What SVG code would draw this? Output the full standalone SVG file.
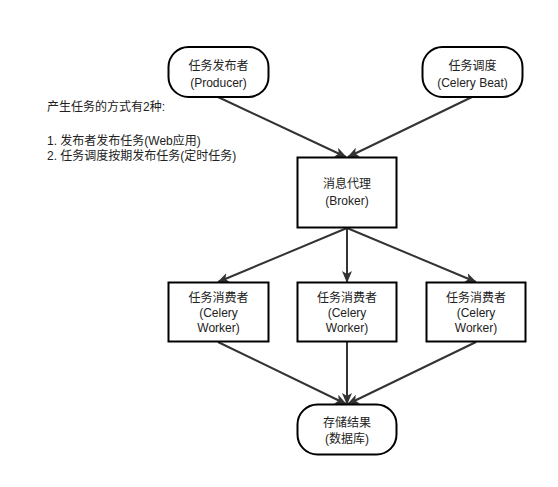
<svg xmlns="http://www.w3.org/2000/svg" width="558" height="487" viewBox="0 0 558 487">
<defs>
<style>
.n{fill:#fff;stroke:#000;stroke-width:2}
.t{font-family:"Liberation Sans","Noto Sans CJK SC",sans-serif;font-size:12px;fill:#222;text-anchor:middle}
.l{font-family:"Liberation Sans","Noto Sans CJK SC",sans-serif;font-size:12px;fill:#222}
.c{fill:none;stroke:#333;stroke-width:2}
</style>
<marker id="a" markerWidth="12" markerHeight="10" refX="11" refY="5" orient="auto" markerUnits="userSpaceOnUse">
<path d="M0,0 L12,5 L0,10 L3,5 Z" fill="#333"/>
</marker>
</defs>
<rect width="558" height="487" fill="#fff"/>
<g id="connectors">
<line class="c" x1="218" y1="97" x2="346" y2="157" marker-end="url(#a)"/>
<line class="c" x1="472" y1="97" x2="348" y2="157" marker-end="url(#a)"/>
<line class="c" x1="347" y1="228" x2="218" y2="282" marker-end="url(#a)"/>
<line class="c" x1="347" y1="228" x2="347" y2="282" marker-end="url(#a)"/>
<line class="c" x1="347" y1="228" x2="476" y2="282" marker-end="url(#a)"/>
<line class="c" x1="218" y1="342" x2="346" y2="404" marker-end="url(#a)"/>
<line class="c" x1="347" y1="342" x2="347" y2="404" marker-end="url(#a)"/>
<line class="c" x1="476" y1="342" x2="348" y2="404" marker-end="url(#a)"/>
</g>
<g id="producer">
<rect class="n" x="168.5" y="47" width="100" height="50" rx="20" ry="20"/>
<text class="t" x="218.5" y="70">任务发布者</text>
<text class="t" x="218.5" y="87">(Producer)</text>
</g>
<g id="beat">
<rect class="n" x="422.5" y="47" width="100" height="50" rx="20" ry="20"/>
<text class="t" x="472.5" y="70">任务调度</text>
<text class="t" x="472.5" y="87">(Celery Beat)</text>
</g>
<g id="note">
<text class="l" x="47" y="111">产生任务的方式有2种:</text>
<text class="l" x="47" y="145">1. 发布者发布任务(Web应用)</text>
<text class="l" x="47" y="160">2. 任务调度按期发布任务(定时任务)</text>
</g>
<g id="broker">
<rect class="n" x="297.5" y="157.5" width="99" height="70"/>
<text class="t" x="347" y="188">消息代理</text>
<text class="t" x="347" y="205">(Broker)</text>
</g>
<g id="worker1">
<rect class="n" x="168.5" y="282.5" width="100" height="59"/>
<text class="t" x="218.5" y="302">任务消费者</text>
<text class="t" x="218.5" y="317">(Celery</text>
<text class="t" x="218.5" y="332">Worker)</text>
</g>
<g id="worker2">
<rect class="n" x="297.5" y="282.5" width="99" height="59"/>
<text class="t" x="347" y="302">任务消费者</text>
<text class="t" x="347" y="317">(Celery</text>
<text class="t" x="347" y="332">Worker)</text>
</g>
<g id="worker3">
<rect class="n" x="426.5" y="282.5" width="99" height="59"/>
<text class="t" x="476" y="302">任务消费者</text>
<text class="t" x="476" y="317">(Celery</text>
<text class="t" x="476" y="332">Worker)</text>
</g>
<g id="storage">
<rect class="n" x="297.5" y="404.5" width="99" height="50" rx="20" ry="20"/>
<text class="t" x="347" y="427">存储结果</text>
<text class="t" x="347" y="443">(数据库)</text>
</g>
</svg>
